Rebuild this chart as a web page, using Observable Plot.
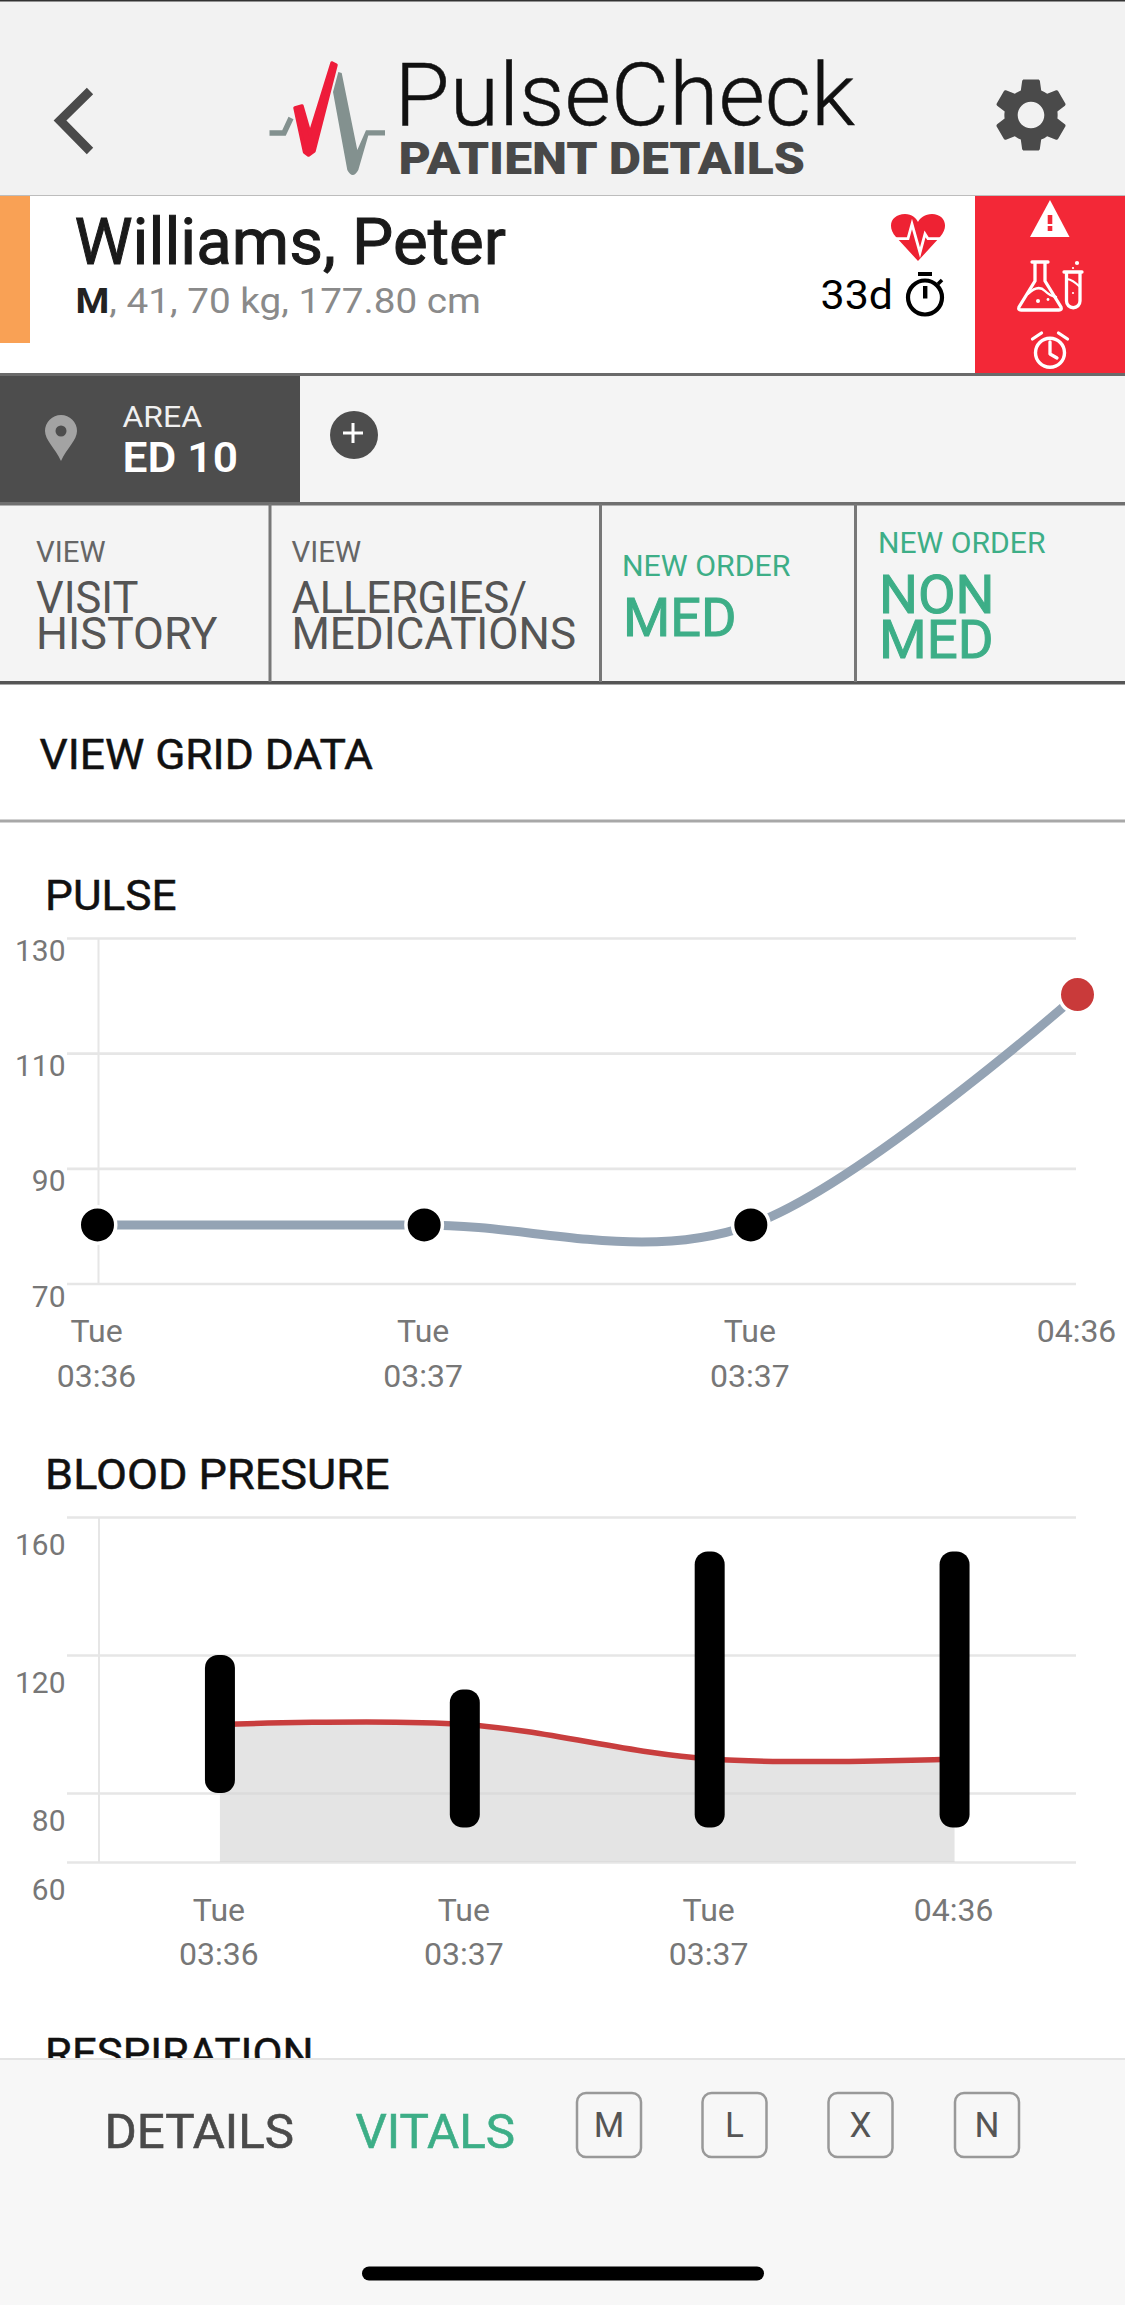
<!DOCTYPE html>
<html>
<head>
<meta charset="utf-8">
<script src="https://cdn.jsdelivr.net/npm/d3@7"></script>
<script src="https://cdn.jsdelivr.net/npm/@observablehq/plot@0.6"></script>
<style>
  html,body{margin:0;padding:0;background:#fff;}
  #page{position:relative;width:1125px;height:2305px;overflow:hidden;font-family:Roboto,sans-serif;}
  #page>svg,#page>div{position:absolute;left:0;}
  #page svg{font-family:Roboto,sans-serif;}
</style>
</head>
<body>
<div id="page">
<svg id="chrome" width="1125" height="2305" style="top:0" xmlns="http://www.w3.org/2000/svg"></svg>
<div id="pulse" style="top:900px"></div>
<div id="bp" style="top:1500px"></div>
<svg id="footer" width="1125" height="247" viewBox="0 2058 1125 247" style="top:2058px" xmlns="http://www.w3.org/2000/svg"></svg>
</div>
<script>
// ---- chart data ----
const pulseIndex = [0, 1, 2, 3];
const pulseValues = [80, 80, 80, 120];
const pulseDotColors = ["#000000", "#000000", "#000000", "#c93a3a"];
const pulseLabels = ["Tue\n03:36", "Tue\n03:37", "Tue\n03:37", "04:36"];
const pulseTicks = [70, 90, 110, 130];

const bpIndex = [0, 1, 2, 3];
const bpMean = [100, 100, 90, 90];
const bpHigh = [120, 110, 150, 150];
const bpLow = [80, 70, 70, 70];
const bpLabels = ["Tue\n03:36", "Tue\n03:37", "Tue\n03:37", "04:36"];
const bpTicks = [60, 80, 120, 160];

// ---- page chrome ----
const GREEN = "#3dae87";
const NS = "http://www.w3.org/2000/svg";
function el(parent, name, attrs, text) {
  const n = document.createElementNS(NS, name);
  for (const k in attrs) n.setAttribute(k, attrs[k]);
  if (text != null) n.textContent = text;
  parent.appendChild(n);
  return n;
}
function T(p, s, x, y, w, size, fill, weight = 400, thicken = 0) {
  return el(p, "text", {x: x - 1.5, y, "font-size": size, fill, "font-weight": weight,
    textLength: w + 1.5, lengthAdjust: "spacingAndGlyphs",
    ...(thicken ? {stroke: fill, "stroke-width": thicken} : {})}, s);
}
const c = document.getElementById("chrome");
const R = (x, y, w, h, fill, extra = {}) => el(c, "rect", {x, y, width: w, height: h, fill, ...extra});
const P = (d, attrs) => el(c, "path", {d, fill: "none", ...attrs});

// backgrounds
R(0, 0, 1125, 196, "#f2f2f2");
R(0, 0, 1125, 1.5, "#333");
R(0, 195, 1125, 1.5, "#bdbdbd");
R(0, 196, 1125, 177, "#fff");
R(0, 196, 30, 147, "#f9a155");
R(975, 196, 150, 177, "#f32837");
R(0, 373, 1125, 3, "#6a6a6a");
R(0, 376, 1125, 127, "#f4f4f4");
R(0, 376, 300, 127, "#4d4d4d");
R(0, 503, 1125, 178, "#f4f4f4");
R(0, 502, 1125, 3.5, "#6f6f6f");
R(0, 681, 1125, 3.5, "#555");
for (const x of [268.5, 599, 854]) R(x, 504, 3, 178, "#777");
R(0, 819.5, 1125, 3, "#a8a8a8");

// back chevron
P("M90 91 L60 120.5 L90 151", {stroke: "#4a4a4a", "stroke-width": 9});
// logo
P("M269.5 133 H284 L291 118", {stroke: "#83918f", "stroke-width": 5.5});
el(c, "path", {d: "M338.3 72 L333 92 L347.3 170 Q352.7 180 358.3 170 L368.3 135.5 H385 V130.3 H366 L357.3 150 L341.7 73 Z", fill: "#83918f"});
el(c, "path", {d: "M295 108 L302 106 L310 134 L332 63 L336 65 L314 151 L308.5 155 L304.5 152 Z", fill: "#ee1c3a", stroke: "#ee1c3a", "stroke-width": 3.5, "stroke-linejoin": "round"});
T(c, "PulseCheck", 396, 125, 459, 88, "#111", 300, 0.5);
T(c, "PATIENT DETAILS", 400, 174, 405, 44, "#484848", 900);
// gear
el(c, "path", {transform: "translate(986.6 70.6) scale(3.7)", fill: "#4a4a4a",
  d: "M19.14,12.94c0.04-0.3,0.06-0.61,0.06-0.94c0-0.32-0.02-0.64-0.07-0.94l2.03-1.58c0.18-0.14,0.23-0.41,0.12-0.61 l-1.92-3.32c-0.12-0.22-0.37-0.29-0.59-0.22l-2.39,0.96c-0.5-0.38-1.03-0.7-1.62-0.94L14.4,2.81c-0.04-0.24-0.24-0.41-0.48-0.41 h-3.84c-0.24,0-0.43,0.17-0.47,0.41L9.25,5.35C8.66,5.59,8.12,5.92,7.63,6.29L5.24,5.33c-0.22-0.08-0.47,0-0.59,0.22L2.74,8.87 C2.62,9.08,2.66,9.34,2.86,9.48l2.03,1.58C4.84,11.36,4.8,11.69,4.8,12s0.02,0.64,0.07,0.94l-2.03,1.58 c-0.18,0.14-0.23,0.41-0.12,0.61l1.92,3.32c0.12,0.22,0.37,0.29,0.59,0.22l2.39-0.96c0.5,0.38,1.03,0.7,1.62,0.94l0.36,2.54 c0.05,0.24,0.24,0.41,0.48,0.41h3.84c0.24,0,0.44-0.17,0.47-0.41l0.36-2.54c0.59-0.24,1.13-0.56,1.62-0.94l2.39,0.96 c0.22,0.08,0.47,0,0.59-0.22l1.92-3.32c0.12-0.22,0.07-0.47-0.12-0.61L19.14,12.94z M12,15.6c-1.98,0-3.6-1.62-3.6-3.6 s1.62-3.6,3.6-3.6s3.6,1.62,3.6,3.6S13.98,15.6,12,15.6z"});

// patient card
T(c, "Williams, Peter", 76, 263.5, 430, 65, "#1a1a1a", 400, 1);
const sub = T(c, "", 77, 312.5, 404, 35, "#8a8a8a", 400);
el(sub, "tspan", {"font-weight": 700, fill: "#222"}, "M");
el(sub, "tspan", {}, ", 41, 70 kg, 177.80 cm");
// heart
el(c, "path", {d: "M918 261 L896 237 C886 226 892 214 905 214 C912 214 916 218 918 222 C920 218 925 214 932 214 C944 214 950 226 940 237 Z", fill: "#ee2233"});
P("M893 238.7 H908 L912 224 L920 252.7 L925 234 L928 238.7 H945", {stroke: "#fff", "stroke-width": 2.8});
T(c, "33d", 822, 309, 71, 40, "#000", 400);
// stopwatch
el(c, "circle", {cx: 925, cy: 297.5, r: 17, fill: "none", stroke: "#000", "stroke-width": 4.2});
R(918, 272, 14, 4, "#000"); R(923, 286, 4.4, 12.5, "#000");
P("M938 284 L942 280", {stroke: "#000", "stroke-width": 3.5});
// alert panel icons
el(c, "path", {d: "M1050 200 L1069.5 237 H1030 Z", fill: "#fff"});
R(1047.7, 215, 4.6, 9, "#f32837"); R(1047.7, 226, 4.6, 5, "#f32837");
const W = {stroke: "#fff", "stroke-width": 3.3, "stroke-linejoin": "round", "stroke-linecap": "round"};
P("M1032 262 H1048 M1035 262 V281 L1019 307 Q1018 310 1021 310 H1059 Q1062 310 1061 307 L1045 281 V262", W);
P("M1028 294 Q1038 284 1045 291 Q1050 296 1056 297", {...W, "stroke-width": 2.4});
el(c, "circle", {cx: 1038, cy: 301, r: 2, fill: "#fff"});
el(c, "circle", {cx: 1048, cy: 299.5, r: 1.4, fill: "#fff"});
P("M1064 272 H1082 M1066.5 272 V301 A6.7 6.7 0 0 0 1080 301 V272", W);
P("M1067 279 Q1073 280 1079 286", {...W, "stroke-width": 2});
el(c, "circle", {cx: 1077, cy: 263, r: 2.1, fill: "#fff"});
el(c, "circle", {cx: 1073, cy: 268, r: 1.1, fill: "#fff"});
el(c, "circle", {cx: 1073, cy: 293, r: 1.1, fill: "#fff"});
el(c, "circle", {cx: 1050, cy: 352.7, r: 14.5, fill: "none", stroke: "#fff", "stroke-width": 3.4});
P("M1050 342 V354 L1057 358 M1032.5 339 L1041.5 333 M1067.5 339 L1058.5 333", W);

// area row
T(c, "AREA", 124, 427, 78, 30, "#f0f0f0", 400);
T(c, "ED 10", 124, 471.5, 114, 42, "#fff", 600);
el(c, "path", {d: "M61 461 C55 448 45 440 45 431 A16 16 0 0 1 77 431 C77 440 67 448 61 461 Z", fill: "#a3a3a3"});
el(c, "circle", {cx: 61, cy: 431, r: 5.5, fill: "#4d4d4d"});
el(c, "circle", {cx: 354, cy: 435, r: 24, fill: "#4d4d4d"});
P("M353 423 V443 M343 433 H363", {stroke: "#fff", "stroke-width": 3});

// menu row
T(c, "VIEW", 37.5, 562, 68, 29, "#666");
T(c, "VISIT", 37.5, 613, 101, 44, "#555");
T(c, "HISTORY", 37.5, 649, 180, 44, "#555");
T(c, "VIEW", 293, 562, 68, 29, "#666");
T(c, "ALLERGIES/", 293, 613, 234, 44, "#555");
T(c, "MEDICATIONS", 293, 649, 283, 44, "#555");
T(c, "NEW ORDER", 623.5, 576, 167, 29, GREEN);
T(c, "MED", 624.5, 635.5, 112, 54, GREEN, 400, 1);
T(c, "NEW ORDER", 879.5, 553, 166, 29, GREEN);
T(c, "NON", 880.5, 612.5, 114, 54, GREEN, 400, 1);
T(c, "MED", 880.5, 657.5, 113, 54, GREEN, 400, 1);

// section titles
T(c, "VIEW GRID DATA", 41, 769, 332, 42, "#111", 400, 0.5);
T(c, "PULSE", 46.6, 910, 130, 43, "#111", 400, 0.5);
T(c, "BLOOD PRESURE", 46.6, 1489, 343, 43, "#111", 400, 0.5);
T(c, "RESPIRATION", 46.6, 2068, 267, 43, "#111", 400, 0.5);

// footer (covers the clipped RESPIRATION title)
const f = document.getElementById("footer");
el(f, "rect", {x: 0, y: 2058, width: 1125, height: 247, fill: "#f7f7f7"});
el(f, "rect", {x: 0, y: 2058, width: 1125, height: 2, fill: "#e4e4e4"});
T(f, "DETAILS", 106, 2148, 188, 49, "#4a4a4a", 400, 0.6);
T(f, "VITALS", 357, 2148, 158, 49, GREEN, 400, 0.6);
[["M", 577], ["L", 702.5], ["X", 828.5], ["N", 955]].forEach(([s, x]) => {
  el(f, "rect", {x, y: 2093, width: 64, height: 64, rx: 9, fill: "none", stroke: "#999", "stroke-width": 2.5});
  el(f, "text", {x: x + 32, y: 2137, "font-size": 35, fill: "#555", "text-anchor": "middle"}, s);
});
el(f, "rect", {x: 362, y: 2266.5, width: 402, height: 14, rx: 7, fill: "#000"});

// ---- charts ----
const GRID = "#e6e6e6";
const TICK = "#777";
const pulseRows = pulseIndex.map(i => ({i, v: pulseValues[i], color: pulseDotColors[i]}));
const pulsePlot = Plot.plot({
  width: 1125, height: 500,
  marginTop: 38, marginBottom: 116.5, marginLeft: 67, marginRight: 49,
  style: {background: "transparent", fontFamily: "Roboto,sans-serif", overflow: "visible"},
  x: {domain: [0, 3], range: [97, 1077]},
  y: {domain: [70, 130]},
  color: {type: "identity"},
  marks: [
    Plot.ruleY(pulseTicks, {stroke: GRID, strokeWidth: 2.6}),
    Plot.ruleX([0], {dx: 1, stroke: GRID, strokeWidth: 2}),
    Plot.axisY({ticks: pulseTicks, tickSize: 0, tickPadding: 2, dy: 13, fontSize: 30, fill: TICK, label: null, tickFormat: d => String(d)}),
    Plot.axisX({ticks: pulseIndex, tickSize: 0, tickPadding: 27, dx: -1, fontSize: 32, fill: TICK, label: null, lineHeight: 1.38, tickFormat: i => pulseLabels[i]}),
    Plot.line(pulseRows, {x: "i", y: "v", dy: -1.5, stroke: "#94a3b4", strokeWidth: 9, curve: "cardinal"}),
    Plot.dot(pulseRows, {x: "i", y: "v", dy: -1.5, r: 18.25, fill: "color", stroke: "#fff", strokeWidth: 3.5})
  ]
});
document.getElementById("pulse").appendChild(pulsePlot);

const bpRows = bpIndex.map(i => ({i, mean: bpMean[i], high: bpHigh[i], low: bpLow[i]}));
const barHalf = 15 / 245;
const bpPlot = Plot.plot({
  width: 1125, height: 500,
  marginTop: 17, marginBottom: 138, marginLeft: 67, marginRight: 49,
  style: {background: "transparent", fontFamily: "Roboto,sans-serif", overflow: "visible"},
  x: {domain: [-0.5, 3.5], range: [97.5, 1077]},
  y: {domain: [60, 160]},
  marks: [
    Plot.ruleY(bpTicks, {stroke: GRID, strokeWidth: 2.6}),
    Plot.ruleX([-0.5], {dx: 1, stroke: GRID, strokeWidth: 2}),
    Plot.axisY({ticks: bpTicks, tickSize: 0, tickPadding: 2, dy: 28, fontSize: 30, fill: TICK, label: null, tickFormat: d => String(d)}),
    Plot.axisX({ticks: bpIndex, tickSize: 0, tickPadding: 27, dx: -1.5, fontSize: 32, fill: TICK, label: null, lineHeight: 1.38, tickFormat: i => bpLabels[i]}),
    Plot.areaY(bpRows, {x: "i", y1: () => 60, y2: "mean", fill: "#d4d4d4", fillOpacity: 0.62, curve: "cardinal"}),
    Plot.line(bpRows, {x: "i", y: "mean", stroke: "#c83e3e", strokeWidth: 5.5, curve: "cardinal"}),
    Plot.rect(bpRows, {x1: d => d.i - barHalf, x2: d => d.i + barHalf, y1: "low", y2: "high", fill: "#000", rx: 13})
  ]
});
document.getElementById("bp").appendChild(bpPlot);
</script>
</body>
</html>
